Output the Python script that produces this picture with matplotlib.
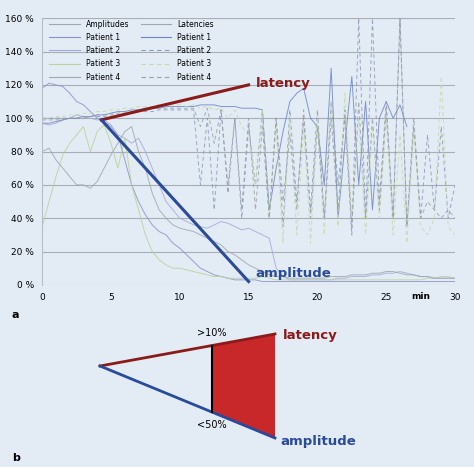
import numpy as np
import matplotlib
matplotlib.use("Agg")
import matplotlib.pyplot as plt
from matplotlib.lines import Line2D

nan = np.nan
t = np.arange(0, 30.01, 0.5)

amp_p1 = [118,121,120,119,115,110,108,104,100,98, 95,90,75,60,50,42,36,32,30,25,
          22,18,14,10,8,6,5,4,3,3, 3,3,2,2,2,2,2,2,2,2, 2,2,2,2,2,2,2,2,2,2, 2,2,2,2,2,2,2,2,2,2, 2]
amp_p2 = [97,96,97,99,100,102,101,100,99,99, 96,90,88,85,88,80,70,60,50,45,
          40,38,36,35,34,36,38,37,35,33, 34,32,30,28,10,5,3,3,3,3, 3,3,3,4,4,5,5,5,6,6, 7,7,8,7,6,5,5,4,4,4, 4]
amp_p3 = [35,50,65,78,85,90,95,80,92,96, 85,70,88,60,45,30,20,15,12,10,
          10,9,8,7,6,5,5,4,4,4, 4,4,5,4,3,3,3,3,3,3, 3,3,3,3,3,3,3,3,3,3, 3,3,3,3,3,3,4,4,5,5, 4]
amp_p4 = [80,82,75,70,65,60,60,58,62,70, 78,85,92,95,80,70,55,45,40,36,
          34,33,32,30,28,26,24,20,18,15, 12,10,8,6,5,5,4,4,4,4, 4,4,5,5,5,6,6,6,7,7, 8,8,7,6,6,5,5,4,4,4, 4]
lat_p1 = [97,97,98,99,100,100,101,101,102,102, 103,104,104,105,105,106,106,106,107,107,
          107,107,107,108,108,108,107,107,107,106, 106,106,105,45,70,92,110,115,118,100,
          95,60,130,40,85,125,60,110,45,100, 110,100,108,95,nan,nan,nan,nan,nan,nan, nan]
lat_p2 = [100,100,100,100,100,100,100,101,101,101, 102,102,103,103,104,104,104,105,105,105,
          105,105,105,60,100,45,105,55,100,40, 95,60,105,40,100,35,105,50,100,45,
          105,40,110,60,100,30,160,40,160,50, 110,40,160,35,100,40,90,45,95,40, 60]
lat_p3 = [100,100,101,101,102,102,103,103,104,104, 105,105,106,106,107,107,107,108,108,108,
          108,107,108,106,107,105,106,100,105,95, 90,60,105,40,95,25,100,30,95,25,
          100,30,110,35,115,40,100,30,95,40, 100,30,90,25,95,35,30,40,125,35, 30]
lat_p4 = [99,99,99,99,100,100,101,101,102,102, 103,103,104,104,105,105,106,106,106,106,
          106,106,106,95,106,85,105,60,100,45, 100,45,95,40,100,50,90,45,105,40,
          95,40,100,45,105,35,110,40,100,45, 105,40,160,35,95,40,50,45,40,45, 40]

trend_x = [4.3, 15]
lat_trend = [99, 120]
amp_trend = [99, 2]

# schematic (panel b) in pixel coordinates
sch_apex = (100, 366)
sch_top = (275, 334)
sch_bot = (275, 438)
sch_cut_x = 212

bg = '#e3ebf5'
fig = plt.figure(figsize=(4.74, 4.67), dpi=100, facecolor=bg)
ax = fig.add_axes([0.089, 0.39, 0.871, 0.571], facecolor=bg)

amp_cols = ['#8a93c8', '#a3abd8', '#b9d39a', '#a0a6ae']
lat_cols = ['#6f86c6', '#8a9ab8', '#c5dba6', '#9aa0a8']
for y, c in zip([amp_p1, amp_p2, amp_p3, amp_p4], amp_cols):
    ax.plot(t, y, color=c, lw=0.7, alpha=0.85)
ax.plot(t, lat_p1, color=lat_cols[0], lw=0.7, alpha=0.85)
for y, c in zip([lat_p2, lat_p3, lat_p4], lat_cols[1:]):
    ax.plot(t, y, color=c, lw=0.7, alpha=0.85, ls=(0, (4, 3)))

ax.plot(trend_x, lat_trend, color='#8b1a1a', lw=2.2)
ax.plot(trend_x, amp_trend, color='#2a4a9a', lw=2.2)
ax.text(15.5, 121, 'latency', color='#8b1a1a', fontsize=9.5, fontweight='bold', va='center')
ax.text(15.5, 7, 'amplitude', color='#2a4a9a', fontsize=9.5, fontweight='bold', va='center')

ax.set_xlim(0, 30)
ax.set_ylim(0, 160)
ax.set_yticks(range(0, 161, 20))
ax.set_yticklabels([f'{v} %' for v in range(0, 161, 20)], fontsize=6.5)
ax.set_xticks([0, 5, 10, 15, 20, 25, 30])
ax.set_xticklabels(['0', '5', '10', '15', '20', '25', '30'], fontsize=6.5)
ax.tick_params(length=0, pad=6)
ax.grid(axis='y', color='#a9aeb6', lw=0.8)
ax.set_axisbelow(True)
for s in ['top', 'right', 'bottom']:
    ax.spines[s].set_visible(False)
ax.spines['left'].set_color('#b8bec8')
ax.text(27.5, -4, 'min', fontsize=6.5, fontweight='bold', va='top', ha='center')

handles = [Line2D([], [], color='#a0a6ae', lw=0.8)] + [Line2D([], [], color=c, lw=0.8) for c in amp_cols] + \
          [Line2D([], [], color='#a0a6ae', lw=0.8)] + [Line2D([], [], color=lat_cols[0], lw=0.8)] + \
          [Line2D([], [], color=c, lw=0.8, ls=(0, (4, 3))) for c in lat_cols[1:]]
labels = ['Amplitudes', 'Patient 1', 'Patient 2', 'Patient 3', 'Patient 4',
          'Latencies', 'Patient 1', 'Patient 2', 'Patient 3', 'Patient 4']
ax.legend(handles, labels, ncol=2, loc='upper left', bbox_to_anchor=(0.0, 1.02),
          frameon=False, fontsize=5.5, handlelength=4, labelspacing=0.55, columnspacing=1.5)

# panel b overlay
ov = fig.add_axes([0, 0, 1, 1], facecolor='none')
ov.set_xlim(0, 474)
ov.set_ylim(467, 0)
ov.axis('off')

def y_at(p, q, x):
    return p[1] + (q[1] - p[1]) * (x - p[0]) / (q[0] - p[0])

yt = y_at(sch_apex, sch_top, sch_cut_x)
yb = y_at(sch_apex, sch_bot, sch_cut_x)
ov.fill([sch_cut_x, sch_top[0], sch_bot[0], sch_cut_x], [yt, sch_top[1], sch_bot[1], yb],
        color='#c8282a', lw=0)
ov.plot([sch_apex[0], sch_top[0]], [sch_apex[1], sch_top[1]], color='#8b1a1a', lw=2)
ov.plot([sch_apex[0], sch_bot[0]], [sch_apex[1], sch_bot[1]], color='#2a4a9a', lw=2)
ov.plot([sch_cut_x, sch_cut_x], [yt, yb], color='black', lw=1.5)
ov.text(sch_cut_x, yt - 8, '>10%', ha='center', va='bottom', fontsize=7)
ov.text(sch_cut_x, yb + 8, '<50%', ha='center', va='top', fontsize=7)
ov.text(283, 336, 'latency', color='#8b1a1a', fontsize=9.5, fontweight='bold', va='center')
ov.text(280, 442, 'amplitude', color='#2a4a9a', fontsize=9.5, fontweight='bold', va='center')
ov.text(12, 315, 'a', fontsize=8, fontweight='bold', va='center')
ov.text(12, 458, 'b', fontsize=8, fontweight='bold', va='center')

fig.savefig('out.png', dpi=100, facecolor=bg)
